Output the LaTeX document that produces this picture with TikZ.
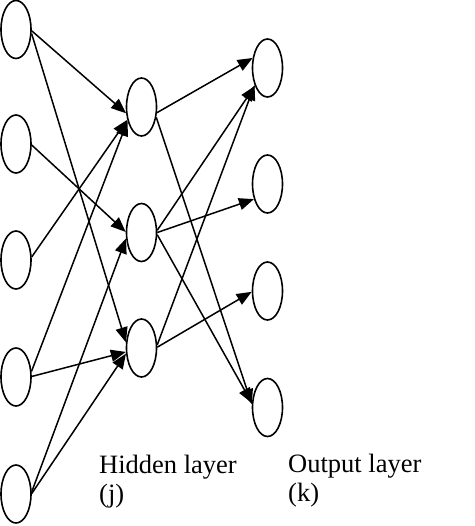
\documentclass[tikz,border=0pt]{standalone}
\usepackage{fontspec}
\setmainfont{Liberation Serif}
\usetikzlibrary{shapes.geometric,arrows.meta}
\begin{document}
\begin{tikzpicture}[x=1pt,y=-1pt,
  neuron/.style={draw,ellipse,line width=1.6pt,minimum width=30pt,minimum height=58pt,inner sep=0pt},
  conn/.style={line width=1.5pt,-{Triangle[length=15pt,width=12pt]}},
  lab/.style={anchor=base west,align=left,inner sep=0pt,font=\fontsize{26.5}{29}\selectfont}]
\useasboundingbox (0,0) rectangle (474,526);
% input layer
\node[neuron] (i1) at (16,29.5) {};
\node[neuron] (i2) at (16,144) {};
\node[neuron] (i3) at (16,260) {};
\node[neuron] (i4) at (16,377) {};
\node[neuron] (i5) at (16,494) {};
% hidden layer
\node[neuron] (h1) at (141.5,107) {};
\node[neuron] (h2) at (141.5,232.5) {};
\node[neuron] (h3) at (141.5,348) {};
% output layer
\node[neuron] (o1) at (267.5,68) {};
\node[neuron] (o2) at (267.5,184) {};
\node[neuron] (o3) at (267.5,291) {};
\node[neuron] (o4) at (267.5,407.5) {};
% input -> hidden
\draw[conn] (i1.-5) -- (h1.202);
\draw[conn] (i1.-15) -- (h3.160);
\draw[conn] (i2.-4) -- (h2.178);
\draw[conn] (i3.11) -- (h1.222);
\draw[conn] (i4.20) -- (h1.225);
\draw[conn] (i4.2) -- (h3.194);
\draw[conn] (i5.8) -- (h2.201);
\draw[conn] (i5.2) -- (h3.200);
% hidden -> output
\draw[conn] (h1.-20) -- (o1.146);
\draw[conn] (h1.-35) -- (o4.168);
\draw[conn] (h2.8) -- (o1.235);
\draw[conn] (h2.0) -- (o2.228);
\draw[conn] (h2.-8) -- (o4.164);
\draw[conn] (h3.11) -- (o1.233);
\draw[conn] (h3.3) -- (o3.183);
% labels
\node[lab] (hl) at (99,502) {Hidden layer\\(j)};
\node[lab] (ol) at (288,501) {Output layer\\(k)};
\end{tikzpicture}
\end{document}
